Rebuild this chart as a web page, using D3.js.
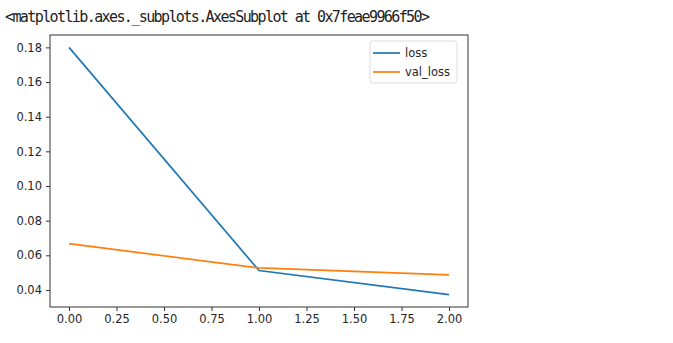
<!DOCTYPE html>
<html>
<head>
<meta charset="utf-8">
<script src="https://cdn.jsdelivr.net/npm/d3@7"></script>
<style>
  body { margin: 0; background: #fff; }
  svg { display: block; }
  .tick text { font-family: "DejaVu Sans", sans-serif; font-size: 11.5px; fill: #262626; }
</style>
</head>
<body>
<svg id="chart" width="673" height="343"></svg>
<script>
var epochs = [0, 1, 2];
var loss = [0.18, 0.0512, 0.0373];
var valLoss = [0.0667, 0.0527, 0.0487];
var xTicks = [0, 0.25, 0.5, 0.75, 1, 1.25, 1.5, 1.75, 2];
var yTicks = [0.04, 0.06, 0.08, 0.10, 0.12, 0.14, 0.16, 0.18];
var seriesNames = ["loss", "val_loss"];
var seriesColors = ["#1f77b4", "#ff7f0e"];

var svg = d3.select("#chart");
var axLeft = 50, axRight = 468, axTop = 35, axBottom = 307;

svg.append("text")
    .attr("x", 5)
    .attr("y", 22)
    .style("font-family", "DejaVu Sans Mono, monospace")
    .style("font-size", "15px")
    .style("fill", "#222")
    .attr("textLength", 425)
    .text("<matplotlib.axes._subplots.AxesSubplot at 0x7feae9966f50>");

// 5% margins like matplotlib
var yMin = d3.min(loss.concat(valLoss)), yMax = d3.max(loss.concat(valLoss));
var yPad = (yMax - yMin) * 0.05;
var x = d3.scaleLinear().domain([-0.1, 2.1]).range([axLeft, axRight]);
var y = d3.scaleLinear().domain([yMin - yPad, yMax + yPad]).range([axBottom, axTop]);

svg.append("g")
    .attr("transform", "translate(0," + axBottom + ")")
    .call(d3.axisBottom(x).tickValues(xTicks).tickFormat(d3.format(".2f")).tickSize(4).tickPadding(4))
    .call(g => g.select(".domain").remove())
    .call(g => g.selectAll(".tick line").attr("stroke", "#333"));

svg.append("g")
    .attr("transform", "translate(" + axLeft + ",0)")
    .call(d3.axisLeft(y).tickValues(yTicks).tickFormat(d3.format(".2f")).tickSize(4).tickPadding(4))
    .call(g => g.select(".domain").remove())
    .call(g => g.selectAll(".tick line").attr("stroke", "#333"));

var lineGen = d3.line()
    .x((d, i) => x(epochs[i]))
    .y(d => y(d));

[loss, valLoss].forEach(function(s, k) {
    svg.append("path")
        .datum(s)
        .attr("fill", "none")
        .attr("stroke", seriesColors[k])
        .attr("stroke-width", 1.7)
        .attr("d", lineGen);
});

svg.append("rect")
    .attr("x", axLeft)
    .attr("y", axTop)
    .attr("width", axRight - axLeft)
    .attr("height", axBottom - axTop)
    .attr("fill", "none")
    .attr("stroke", "#333")
    .attr("stroke-width", 1);

// legend
var lg = svg.append("g").attr("transform", "translate(370,41)");
lg.append("rect")
    .attr("width", 87)
    .attr("height", 42)
    .attr("rx", 3)
    .attr("fill", "#fff")
    .attr("fill-opacity", 0.8)
    .attr("stroke", "#ddd");
seriesNames.forEach(function(n, k) {
    lg.append("line")
        .attr("x1", 3).attr("x2", 30)
        .attr("y1", 12 + k * 19).attr("y2", 12 + k * 19)
        .attr("stroke", seriesColors[k])
        .attr("stroke-width", 1.7);
    lg.append("text")
        .attr("x", 35)
        .attr("y", 12 + k * 19)
        .attr("dy", "0.35em")
        .style("font-family", "DejaVu Sans, sans-serif")
        .style("font-size", "11.5px")
        .style("fill", "#262626")
        .text(n);
});
</script>
</body>
</html>
